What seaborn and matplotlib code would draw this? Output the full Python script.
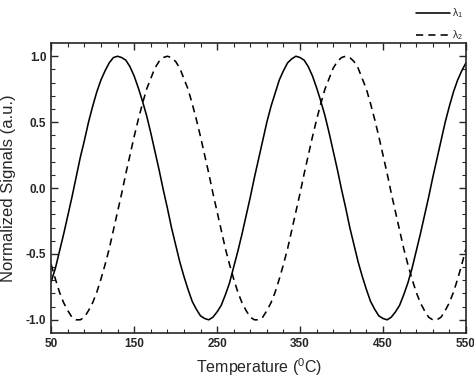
"""
Normalized signals of the two wavelengths vs temperature.
"""
import seaborn as sns
import matplotlib.pyplot as plt
import pandas as pd

sns.set_style('ticks', {
    'xtick.direction': 'in',
    'ytick.direction': 'in',
    'xtick.top': True,
    'ytick.right': True,
})
plt.rcParams['font.family'] = ['Liberation Sans', 'DejaVu Sans']
plt.rcParams['mathtext.fontset'] = 'custom'
plt.rcParams['mathtext.rm'] = 'Liberation Sans'
plt.rcParams['mathtext.it'] = 'Liberation Sans'

# values, every 5 degC
temperature = list(range(50, 551, 5))
lambda1 = [-0.71, -0.61, -0.48, -0.35, -0.21, -0.07, 0.08, 0.23, 0.36, 0.50,
           0.62, 0.73, 0.82, 0.89, 0.95, 0.99, 1.00, 0.99, 0.97, 0.92,
           0.85, 0.76, 0.66, 0.55, 0.42, 0.28, 0.14, -0.01, -0.15, -0.30,
           -0.43, -0.56, -0.67, -0.77, -0.86, -0.92, -0.97, -0.99, -1.00, -0.98,
           -0.94, -0.89, -0.81, -0.72, -0.60, -0.48, -0.35, -0.21, -0.07, 0.08,
           0.22, 0.36, 0.50, 0.62, 0.72, 0.82, 0.89, 0.95, 0.98, 1.00,
           0.99, 0.97, 0.92, 0.85, 0.76, 0.66, 0.55, 0.42, 0.28, 0.14,
           -0.01, -0.15, -0.30, -0.43, -0.56, -0.67, -0.77, -0.86, -0.92, -0.97,
           -0.99, -1.00, -0.98, -0.94, -0.89, -0.81, -0.72, -0.61, -0.48, -0.35,
           -0.21, -0.07, 0.08, 0.22, 0.36, 0.50, 0.62, 0.73, 0.82, 0.89,
           0.95]
lambda2 = [-0.58, -0.69, -0.79, -0.87, -0.93, -0.98, -1.00, -1.00, -0.98, -0.93,
           -0.87, -0.79, -0.69, -0.58, -0.46, -0.32, -0.18, -0.04, 0.11, 0.25,
           0.39, 0.52, 0.64, 0.75, 0.83, 0.91, 0.96, 0.99, 1.00, 0.99,
           0.96, 0.91, 0.83, 0.75, 0.64, 0.52, 0.39, 0.25, 0.11, -0.04,
           -0.18, -0.32, -0.46, -0.58, -0.69, -0.79, -0.87, -0.93, -0.98, -1.00,
           -1.00, -0.98, -0.93, -0.87, -0.79, -0.69, -0.58, -0.46, -0.32, -0.18,
           -0.04, 0.11, 0.25, 0.39, 0.52, 0.64, 0.75, 0.83, 0.91, 0.96,
           0.99, 1.00, 0.99, 0.96, 0.91, 0.83, 0.75, 0.64, 0.52, 0.39,
           0.25, 0.11, -0.04, -0.18, -0.32, -0.46, -0.58, -0.69, -0.79, -0.87,
           -0.93, -0.98, -1.00, -1.00, -0.98, -0.93, -0.87, -0.79, -0.69, -0.58,
           -0.46]
labels = ['λ$_1$', 'λ$_2$']
xticks = [50, 150, 250, 350, 450, 550]
yticks = [-1.0, -0.5, 0.0, 0.5, 1.0]

df = pd.concat([
    pd.DataFrame({'T': temperature, 'signal': lambda1, 'line': labels[0]}),
    pd.DataFrame({'T': temperature, 'signal': lambda2, 'line': labels[1]}),
])

fig = plt.figure(figsize=(4.74, 3.81), dpi=100)
ax = fig.add_axes([0.108, 0.126, 0.875, 0.761])
sns.lineplot(data=df, x='T', y='signal', hue='line', style='line',
             palette=['black', 'black'],
             dashes={labels[0]: '', labels[1]: (4.5, 3.2)},
             linewidth=1.15, ax=ax)

ax.set_xlim(50, 550)
ax.set_ylim(-1.1, 1.1)
ax.set_xticks(xticks)
ax.set_xticks(range(50, 551, 20), minor=True)
ax.set_yticks(yticks)
ax.set_yticklabels([f'{v:.1f}' for v in yticks])
ax.set_yticks([i / 10 for i in range(-10, 11)], minor=True)
ax.tick_params(which='major', length=5, width=1, labelsize=8.5)
ax.tick_params(which='minor', length=3, width=0.8, direction='in',
               top=True, right=True)
for t in ax.get_xticklabels() + ax.get_yticklabels():
    t.set_fontweight('bold')
for s in ax.spines.values():
    s.set_linewidth(1.2)

ax.set_xlabel('Temperature ($^{0}$C)', fontsize=11.5, labelpad=5)
ax.set_ylabel('Normalized Signals (a.u.)', fontsize=12, labelpad=7)

ax.legend(loc='upper left', bbox_to_anchor=(0.865, 1.0), bbox_transform=fig.transFigure,
          frameon=False, fontsize=7.5, handlelength=3.2, handletextpad=0.2,
          labelspacing=0.8, borderaxespad=0.2)

fig.savefig('out.png', dpi=100)
